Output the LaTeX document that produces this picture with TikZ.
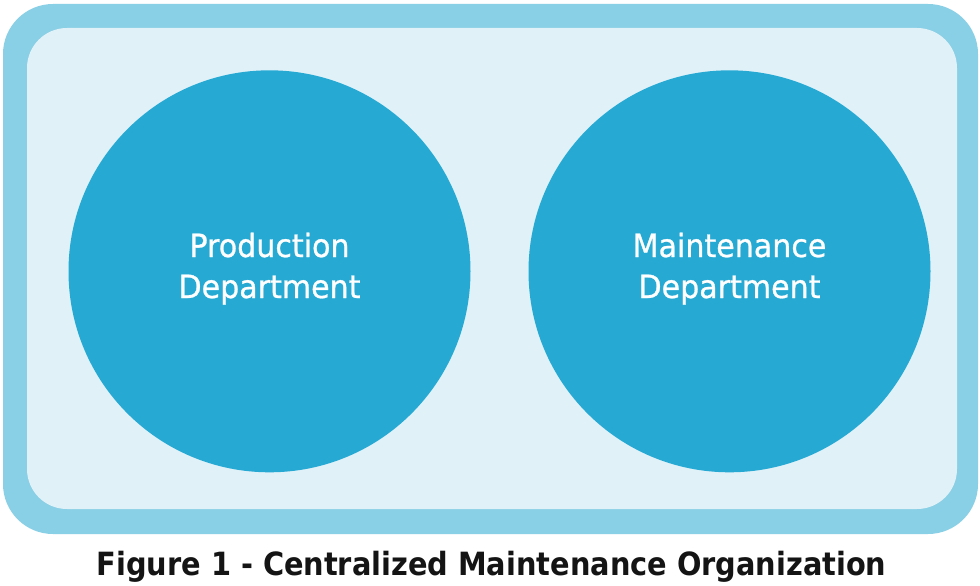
\documentclass[tikz,border=0pt]{standalone}
\usepackage{fontspec}
\setmainfont{DejaVu Sans}
\newfontfamily\deptfont[FakeStretch=0.94,FakeBold=0.8]{DejaVu Sans}
\newfontfamily\capfont[FakeStretch=0.9]{DejaVu Sans}
\definecolor{outerblue}{RGB}{137,207,230}
\definecolor{innerblue}{RGB}{224,241,248}
\definecolor{circblue}{RGB}{38,170,212}
\definecolor{captxt}{RGB}{20,20,20}
\begin{document}
\begin{tikzpicture}[x=1pt,y=-1pt,
  dept/.style={circle,fill=circblue,minimum size=402pt,inner sep=0pt},
  depttext/.style={text=white,font=\deptfont\fontsize{32}{41}\selectfont,align=center,anchor=base},
  capt/.style={font=\capfont\bfseries\fontsize{32}{36}\selectfont,text=captxt,anchor=base}]
\useasboundingbox (0,0) rectangle (980,586);
\fill[white] (0,0) rectangle (980,586);
\fill[outerblue,rounded corners=50pt] (3,4) rectangle (978,534);
\fill[innerblue,rounded corners=40pt] (27,28) rectangle (957,509);
\node[dept] (prod) at (269.5,271.3) {};
\node[dept] (maint) at (729.5,271.3) {};
\node[depttext] (prodt1) at (269.5,257) {Production};
\node[depttext] (prodt2) at (269.5,298) {Department};
\node[depttext] (maintt1) at (729.5,257) {Maintenance};
\node[depttext] (maintt2) at (729.5,298) {Department};
\node[capt] (cap) at (491.5,575) {Figure 1 - Centralized Maintenance Organization};
\end{tikzpicture}
\end{document}
